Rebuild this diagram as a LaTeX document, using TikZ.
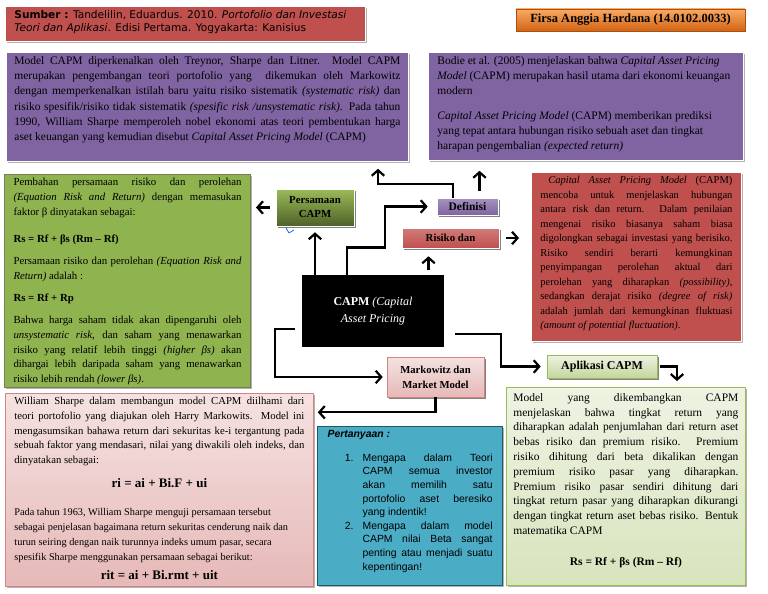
\documentclass[tikz,border=0pt]{standalone}
\usepackage{fontspec}
\setmainfont{Liberation Serif}
\newfontfamily\sumberfont{DejaVu Sans}
\newfontfamily\tanyafont{Liberation Sans}
\usepackage{tikz}
\usetikzlibrary{arrows.meta,calc,shadows}
\usepackage{xcolor}
\definecolor{capmred}{RGB}{192,80,77}
\definecolor{capmpurple}{RGB}{128,100,162}
\definecolor{capmgreen}{RGB}{143,179,79}
\definecolor{capmgreendark}{RGB}{79,98,40}
\definecolor{capmgreenlight}{RGB}{155,187,89}
\definecolor{capmblue}{RGB}{75,172,198}
\definecolor{capmteal}{RGB}{33,89,104}
\definecolor{pinktop}{RGB}{244,226,225}
\definecolor{pinkbot}{RGB}{230,185,184}
\definecolor{palegreentop}{RGB}{238,243,226}
\definecolor{palegreenbot}{RGB}{215,228,189}
\definecolor{orangetop}{RGB}{250,170,100}
\definecolor{orangebot}{RGB}{210,100,20}
\newcommand{\panelbody}[3]{\parbox[c][#2pt][t]{#1pt}{#3}}
\newcommand{\fsize}[2]{\fontsize{#1}{#2}\selectfont}
\hyphenpenalty=10000
\exhyphenpenalty=10000
\sloppy

\begin{document}
\begin{tikzpicture}[x=1pt, y=-1pt,
    panel/.style={anchor=north west, draw=white, line width=0.8pt, inner xsep=9pt, inner ysep=4pt,
        drop shadow={shadow xshift=1.5pt, shadow yshift=-1.5pt, fill=black!50, opacity=0.6}},
    tag/.style={draw=white, line width=0.6pt, inner sep=0pt, align=center, font=\fsize{10.8}{14}\bfseries,
        drop shadow={shadow xshift=1.5pt, shadow yshift=-1.5pt, fill=black!70, opacity=0.7}},
    link/.style={line width=2.2pt, -{Straight Barb[length=5.5pt,width=12.5pt]}},
]
    \fill[white] (0,0) rectangle (768,594);
    \useasboundingbox (0,0) rectangle (768,594);

    % --- header ---
    \node[panel, fill=capmred, font=\sumberfont\fsize{10.6}{13.2}] (sumber) at (5,6)
        {\panelbody{342}{27}{\raggedright\textbf{Sumber :} Tandelilin, Eduardus. 2010. \textit{Portofolio dan Investasi}\\
        \textit{Teori dan Aplikasi}. Edisi Pertama. Yogyakarta: Kanisius}};
    \node[draw=orangebot!80!black, line width=0.4pt, top color=orangetop, bottom color=orangebot,
        minimum width=229pt, minimum height=22pt, inner sep=0pt, font=\fsize{12.5}{13}\bfseries] (penulis) at (630.5,20)
        {Firsa Anggia Hardana (14.0102.0033)};

    % --- top panels ---
    \node[panel, fill=capmpurple, inner xsep=8pt, font=\fsize{11.5}{15.3}] (sejarah) at (6,52)
        {\panelbody{386}{101}{Model CAPM diperkenalkan oleh Treynor, Sharpe dan Litner. Model CAPM\linebreak
        merupakan pengembangan teori portofolio yang \ dikemukan oleh Markowitz\linebreak
        dengan memperkenalkan istilah baru yaitu risiko sistematik \textit{(systematic risk)} dan\linebreak
        risiko spesifik/risiko tidak sistematik \textit{(spesific risk /unsystematic risk)}. Pada tahun\linebreak
        1990, William Sharpe memperoleh nobel ekonomi atas teori pembentukan harga\linebreak
        aset keuangan yang kemudian disebut \textit{Capital Asset Pricing Model} (CAPM)}};
    \node[panel, fill=capmpurple, font=\fsize{11.5}{15}] (bodie) at (428,52)
        {\panelbody{297}{100}{\raggedright Bodie et al. (2005) menjelaskan bahwa \textit{Capital Asset Pricing}\\
        \textit{Model} (CAPM) merupakan hasil utama dari ekonomi keuangan\\
        modern\par\vspace{10pt}
        \textit{Capital Asset Pricing Model} (CAPM) memberikan prediksi\\
        yang tepat antara hubungan risiko sebuah aset dan tingkat\\
        harapan pengembalian \textit{(expected return)}}};

    % --- side panels ---
    \node[panel, draw=capmgreendark!80, line width=1pt, fill=capmgreen, font=\fsize{10.8}{14.7}] (pembahasan) at (4,174)
        {\panelbody{228}{205}{\parskip=7.5pt
        Pembahan persamaan risiko dan perolehan\linebreak
        \textit{(Equation Risk and Return)} dengan memasukan\linebreak
        faktor β dinyatakan sebagai:\par
        \vspace{5pt}
        \textbf{Rs = Rf + βs (Rm – Rf)}\par
        Persamaan risiko dan perolehan \textit{(Equation Risk and}\linebreak
        \textit{Return)} adalah :\par
        \textbf{Rs = Rf + Rp}\par
        Bahwa harga saham tidak akan dipengaruhi oleh\linebreak
        \textit{unsystematic risk}, dan saham yang menawarkan\linebreak
        risiko yang relatif lebih tinggi \textit{(higher βs)} akan\linebreak
        dihargai lebih daripada saham yang menawarkan\linebreak
        risiko lebih rendah \textit{(lower βs)}.}};
    \node[panel, fill=capmred, font=\fsize{10.5}{14.5}] (risikoDetail) at (531,172)
        {\panelbody{192}{161}{\hspace*{8pt}\textit{Capital Asset Pricing Model} (CAPM)\linebreak
        mencoba untuk menjelaskan hubungan\linebreak
        antara risk dan return. Dalam penilaian\linebreak
        mengenai risiko biasanya saham biasa\linebreak
        digolongkan sebagai investasi yang berisiko.\linebreak
        Risiko sendiri berarti kemungkinan\linebreak
        penyimpangan perolehan aktual dari\linebreak
        perolehan yang diharapkan \textit{(possibility)},\linebreak
        sedangkan derajat risiko \textit{(degree of risk)}\linebreak
        adalah jumlah dari kemungkinan fluktuasi\linebreak
        \textit{(amount of potential fluctuation)}.}};

    % --- centre ---
    \node[tag, top color=capmgreenlight, bottom color=capmgreendark, minimum width=78pt, minimum height=37pt] (persamaan) at (315,207.5)
        {Persamaan\\CAPM};
    \node[tag, top color=capmpurple!70!white, bottom color=capmpurple, minimum width=61pt, minimum height=17pt,
        font=\fsize{11.5}{13}\bfseries] (definisi) at (467.5,206.5) {Definisi};
    \node[tag, top color=capmred!75!white, bottom color=capmred, minimum width=97pt, minimum height=20pt] (risiko) at (450.5,238)
        {Risiko dan};
    \node[fill=black, minimum width=142pt, minimum height=72pt, text=white, align=center, font=\fsize{12}{17}] (capm) at (373,311)
        {\textbf{CAPM} \textit{(Capital}\\\textit{Asset Pricing}};
    \node[tag, draw=capmred!70, top color=pinktop, bottom color=pinkbot, minimum width=97pt, minimum height=40pt,
        font=\fsize{10.7}{15}\bfseries] (markowitz) at (435.5,377) {Markowitz dan\\Market Model};
    \node[tag, draw=capmgreenlight, top color=palegreentop, bottom color=capmgreenlight!60!white, minimum width=110pt,
        minimum height=23pt, font=\fsize{12}{13}\bfseries] (aplikasi) at (602,366.5) {Aplikasi CAPM};
    \draw[blue!60!cyan, line width=0.7pt] (286,228) -- (289,233) -- (294,230);

    % --- bottom panels ---
    \node[panel, draw=capmred!70, top color=pinktop, bottom color=pinkbot, font=\fsize{10.7}{14.7}] (teoriSharpe) at (5,393)
        {\panelbody{290}{185}{William Sharpe dalam membangun model CAPM diilhami dari\linebreak
        teori portofolio yang diajukan oleh Harry Markowits. Model ini\linebreak
        mengasumsikan bahawa return dari sekuritas ke-i tergantung pada\linebreak
        sebuah faktor yang mendasari, nilai yang diwakili oleh indeks, dan\linebreak
        dinyatakan sebagai:\par
        \vspace{9pt}
        {\centering\fsize{13}{15}\bfseries ri = ai + Bi.F + ui\par}
        \vspace{13pt}
        {\raggedright\fsize{10.3}{15}Pada tahun 1963, William Sharpe menguji persamaan tersebut\\
        sebagai penjelasan bagaimana return sekuritas cenderung naik dan\\
        turun seiring dengan naik turunnya indeks umum pasar, secara\\
        spesifik Sharpe menggunakan persamaan sebagai berikut:\par}
        \vspace{4pt}
        {\centering\fsize{13}{15}\bfseries rit = ai + Bi.rmt + uit\par}}};
    \node[panel, draw=capmteal, line width=1.2pt, fill=capmblue, inner xsep=10pt, font=\tanyafont\fsize{10.4}{13.6}] (pertanyaan) at (317,426)
        {\panelbody{165}{151}{\textbf{\textit{Pertanyaan :}}\par\vspace{10pt}
        \leftskip=35pt
        \noindent\llap{1.\hspace{9pt}}Mengapa dalam Teori\linebreak CAPM semua investor\linebreak
        akan memilih satu\linebreak portofolio aset beresiko\linebreak yang indentik!\par
        \noindent\llap{2.\hspace{9pt}}Mengapa dalam model\linebreak CAPM nilai Beta sangat\linebreak
        penting atau menjadi suatu\linebreak kepentingan!}};
    \node[panel, draw=capmgreenlight, top color=palegreentop, bottom color=palegreenbot, inner xsep=7pt, font=\fsize{11.5}{14.8}] (modelCapm) at (506,387)
        {\panelbody{225}{190}{\vspace*{2pt}Model yang dikembangkan CAPM\linebreak
        menjelaskan bahwa tingkat return yang\linebreak
        diharapkan adalah penjumlahan dari return aset\linebreak
        bebas risiko dan premium risiko. Premium\linebreak
        risiko dihitung dari beta dikalikan dengan\linebreak
        premium risiko pasar yang diharapkan.\linebreak
        Premium risiko pasar sendiri dihitung dari\linebreak
        tingkat return pasar yang diharapkan dikurangi\linebreak
        dengan tingkat return aset bebas risiko. Bentuk\linebreak
        matematika CAPM\par
        \vspace{16pt}
        {\centering\bfseries Rs = Rf + βs (Rm – Rf)\par}}};

    % --- connectors ---
    \draw[link, shorten >=6pt] (persamaan |- capm.north) -- (persamaan.south);
    \draw[link, shorten >=9pt] ($(capm.north west)+(45,0)$) |- ($(definisi.west)+(-52,41)$) |- (definisi.west);
    \coordinate (risikoIn) at ($(risiko.south)+(-22,0)$);
    \draw[link, shorten <=5pt, shorten >=8pt] (risikoIn |- capm.north) -- (risikoIn);
    \draw[link, shorten >=7pt] ($(definisi.north west)+(16,0)$) |- ($(sejarah.south west)+(372,22)$) -- ($(sejarah.south west)+(372,0)$);
    \coordinate (definisiUp) at ($(definisi.north)+(12,0)$);
    \draw[link, shorten <=7pt, shorten >=10pt] (definisiUp) -- (definisiUp |- bodie.south);
    \draw[link, shorten <=6pt, shorten >=5pt] (persamaan.west) -- (persamaan.west -| pembahasan.east);
    \draw[link, shorten <=7pt, shorten >=12pt] (risiko.east) -- (risiko.east -| risikoDetail.west);
    \draw[link, shorten <=7pt, shorten >=4pt] ($(capm.west)+(0,18)$) -| ($(markowitz.west)+(-112,0)$) -- (markowitz.west);
    \draw[link, shorten >=4pt] (markowitz.south) -- ++(0,15) coordinate (markowitzTurn) -- (markowitzTurn -| teoriSharpe.east);
    \draw[link, shorten <=11pt, shorten >=6pt] ($(capm.east)+(0,23)$) -| ($(aplikasi.west)+(-46,0)$) -- (aplikasi.west);
    \draw[link, shorten <=3pt, shorten >=6pt] (aplikasi.east) -| ($(modelCapm.north west)+(171,0)$);
\end{tikzpicture}
\end{document}
